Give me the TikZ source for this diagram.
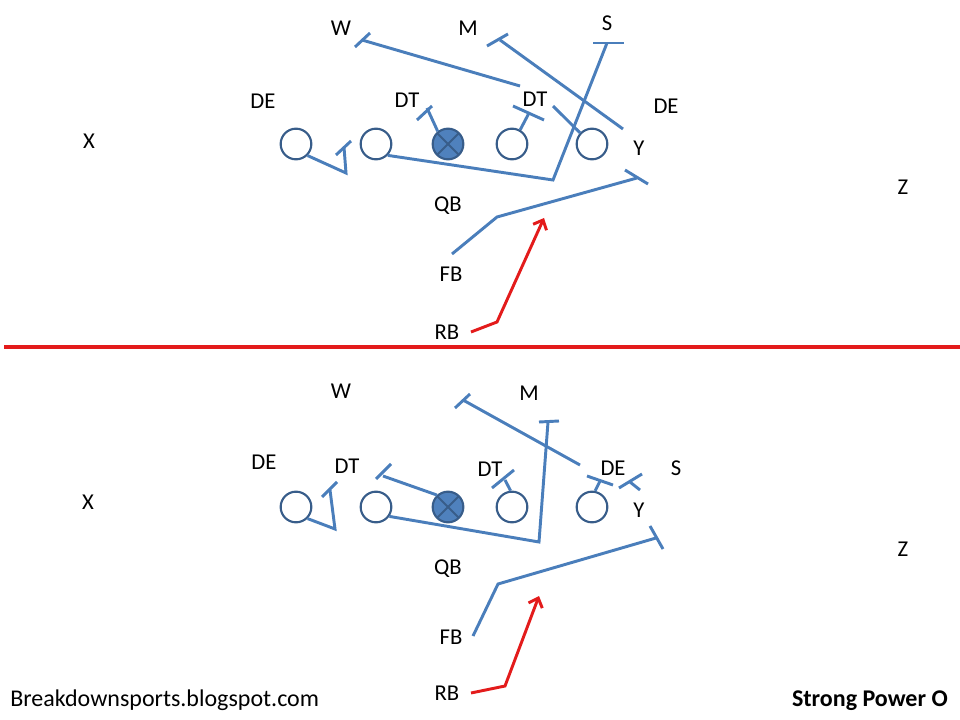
\documentclass[tikz,border=0pt]{standalone}
\usepackage{fontspec}
\setmainfont{Carlito}
\usepackage{tikz}
\usetikzlibrary{arrows.meta}
\definecolor{routeblue}{HTML}{4A7EBB}
\definecolor{ringblue}{HTML}{385D8A}
\definecolor{centerblue}{HTML}{4F81BD}
\definecolor{runred}{HTML}{E31B1B}
\tikzset{
  lineman/.style={circle, draw=ringblue, line width=1.6pt, fill=white, minimum size=23pt, inner sep=0pt},
  centerman/.style={lineman, fill=centerblue, path picture={\draw[ringblue, line width=1.4pt] (path picture bounding box.north west) -- (path picture bounding box.south east) (path picture bounding box.north east) -- (path picture bounding box.south west);}},
  block/.style={routeblue, line width=2.2pt},
  runpath/.style={runred, line width=2.2pt, -{Straight Barb[length=6pt, width=11pt]}},
  divider/.style={runred, line width=2.6pt},
  poslabel/.style={inner sep=0pt, text depth=0pt, font=\fontsize{17}{20}\selectfont},
  credit/.style={inner sep=0pt, font=\fontsize{18}{21}\selectfont}
}

\begin{document}
\begin{tikzpicture}[x=0.75pt, y=-0.75pt]
  \useasboundingbox (0,0) rectangle (960,720);
  % ---- top diagram ----
  \node[poslabel] (tW) at (341,28) {W};
  \node[poslabel] (tM) at (468,28) {M};
  \node[poslabel] (tS) at (607,23) {S};
  \node[poslabel] (tDEl) at (263,101) {DE};
  \node[poslabel] (tDTl) at (407,100) {DT};
  \node[poslabel] (tDTr) at (535,99) {DT};
  \node[poslabel] (tDEr) at (666,106) {DE};
  \node[poslabel] (tX) at (89,141) {X};
  \node[poslabel] (tY) at (639,148) {Y};
  \node[poslabel] (tZ) at (903,187) {Z};
  \node[poslabel] (tQB) at (448,204) {QB};
  \node[poslabel] (tFB) at (451,274) {FB};
  \node[poslabel] (tRB) at (447,332) {RB};
  \node[lineman] (tLT) at (296,144) {};
  \node[lineman] (tLG) at (376,144) {};
  \node[centerman] (tC) at (448,144) {};
  \node[lineman] (tRG) at (512,144) {};
  \node[lineman] (tRT) at (592,144) {};
  \coordinate (tLTk) at (346,173);
  \coordinate (tLTe) at (344,147);
  \coordinate (tLGk) at (553,180);
  \coordinate (tLGe) at (607,43);
  \coordinate (tCe) at (427,108);
  \coordinate (tRGe) at (529,113);
  \coordinate (tRTe) at (553,106);
  \coordinate (tWs) at (520,86);
  \coordinate (tWe) at (362,40);
  \coordinate (tMs) at (623,129);
  \coordinate (tMe) at (500,40);
  \coordinate (tFBs) at (452,254);
  \coordinate (tFBk) at (497,217);
  \coordinate (tFBe) at (637,178);
  \coordinate (tRBs) at (471,332);
  \coordinate (tRBk) at (497,322);
  \coordinate (tRBe) at (544,218);
  \draw[block] (tLT.-45) -- (tLTk) -- (tLTe);
  \draw[block] (tLG.-44) -- (tLGk) -- (tLGe);
  \draw[block] (tC.129) -- (tCe);
  \draw[block] (tRG.60) -- (tRGe);
  \draw[block] (tRT.137) -- (tRTe);
  \draw[block] (tWs) -- (tWe);
  \draw[block] (tMs) -- (tMe);
  \draw[block] (tFBs) -- (tFBk) -- (tFBe);
  \draw[runpath] (tRBs) -- (tRBk) -- (tRBe);
  \foreach \xa/\ya/\xb/\yb in {336/155/351/141, 593/43/624/43, 417/120/432/106, 513/106/544/120, 355/47/370/33, 487/46/508/34, 625/170/648/184}
    \draw[block] (\xa,\ya) -- (\xb,\yb);
  % ---- divider ----
  \draw[divider] (4,347) -- (960,347);
  % ---- bottom diagram ----
  \node[poslabel] (bW) at (341,391) {W};
  \node[poslabel] (bM) at (529,393) {M};
  \node[poslabel] (bDEl) at (264,462) {DE};
  \node[poslabel] (bDTl) at (347,466) {DT};
  \node[poslabel] (bDTr) at (490,469) {DT};
  \node[poslabel] (bDEr) at (613,468) {DE};
  \node[poslabel] (bS) at (676,468) {S};
  \node[poslabel] (bX) at (88,502) {X};
  \node[poslabel] (bY) at (639,510) {Y};
  \node[poslabel] (bZ) at (903,549) {Z};
  \node[poslabel] (bQB) at (448,567) {QB};
  \node[poslabel] (bFB) at (451,637) {FB};
  \node[poslabel] (bRB) at (447,693) {RB};
  \node[lineman] (bLT) at (296,507) {};
  \node[lineman] (bLG) at (376,507) {};
  \node[centerman] (bC) at (448,507) {};
  \node[lineman] (bRG) at (512,507) {};
  \node[lineman] (bRT) at (592,507) {};
  \coordinate (bLTk) at (335,529);
  \coordinate (bLTe) at (330,490);
  \coordinate (bLGk) at (539,542);
  \coordinate (bLGe) at (548,422);
  \coordinate (bCe) at (383,476);
  \coordinate (bRGe) at (505,480);
  \coordinate (bRTe) at (600,481);
  \coordinate (bYs) at (640,490);
  \coordinate (bYe) at (630,482);
  \coordinate (bMs) at (580,465);
  \coordinate (bMe) at (463,400);
  \coordinate (bFBs) at (473,636);
  \coordinate (bFBk) at (498,584);
  \coordinate (bFBe) at (656,538);
  \coordinate (bRBs) at (471,693);
  \coordinate (bRBk) at (505,686);
  \coordinate (bRBe) at (539,596);
  \draw[block] (bLT.-45) -- (bLTk) -- (bLTe);
  \draw[block] (bLG.-35) -- (bLGk) -- (bLGe);
  \draw[block] (bC.133) -- (bCe);
  \draw[block] (bRG.95) -- (bRGe);
  \draw[block] (bRT.79) -- (bRTe);
  \draw[block] (bYs) -- (bYe);
  \draw[block] (bMs) -- (bMe);
  \draw[block] (bFBs) -- (bFBk) -- (bFBe);
  \draw[runpath] (bRBs) -- (bRBk) -- (bRBe);
  \foreach \xa/\ya/\xb/\yb in {322/497/337/482, 539/422/559/421, 376/479/391/464, 492/488/514/470, 587/476/613/485, 619/488/642/474, 455/408/470/394, 650/526/663/549}
    \draw[block] (\xa,\ya) -- (\xb,\yb);
  % ---- credits ----
  \node[credit, anchor=west] (site) at (10,700) {Breakdownsports.blogspot.com};
  \node[credit, anchor=east, font=\fontsize{18}{21}\selectfont\bfseries] (play) at (948,701) {Strong Power O};
\end{tikzpicture}
\end{document}
